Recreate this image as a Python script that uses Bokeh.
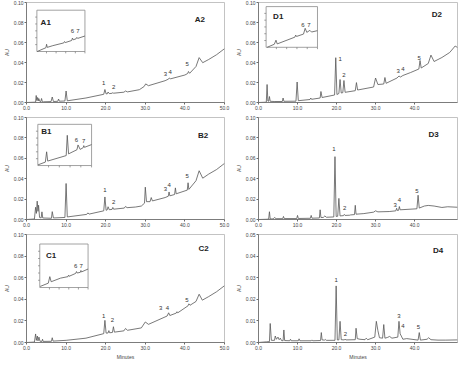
from bokeh.plotting import figure
from bokeh.models import Range1d, FixedTicker, NumeralTickFormatter
from bokeh.layouts import column, row
from bokeh.embed import file_html
from bokeh.resources import INLINE
from bokeh.core.properties import value

FONT = "Liberation Sans"

# ---------------- data (retention time in minutes, absorbance in AU) ----------------
A2_t = [0, 2.0, 2.3, 2.45, 2.6, 2.8, 2.95, 3.1, 3.4, 3.6, 3.8, 4.0, 4.3, 6.2, 6.5, 6.8, 7.9, 8.1, 8.3,
        9.7, 10.0, 10.3, 15.0, 19.5, 19.8, 20.1, 20.4, 20.6, 20.9, 21.6, 21.8, 22.0, 24.6, 25.0, 25.5,
        28.5, 29.7, 30.1, 30.8, 35.0, 35.9, 36.1, 36.4, 40.0, 40.7, 40.9, 41.2, 42.8, 43.6, 44.5, 46.0, 48.0, 50.0]
A2_au = [0.0, 0.0003, 0.0004, 0.007, 0.002, 0.005, 0.0015, 0.004, 0.001, 0.0008, 0.004, 0.0008, 0.0007,
         0.0009, 0.0055, 0.001, 0.0012, 0.0035, 0.0013, 0.0015, 0.0115, 0.0017, 0.0045, 0.0082, 0.013,
         0.0086, 0.0087, 0.0105, 0.0089, 0.0092, 0.0098, 0.0093, 0.0103, 0.0115, 0.0106, 0.0128, 0.016,
         0.0186, 0.0168, 0.0218, 0.0235, 0.0245, 0.0237, 0.0275, 0.029, 0.031, 0.0292, 0.036, 0.0449,
         0.0398, 0.043, 0.0478, 0.0538]

B2_t = [0, 2.0, 2.3, 2.5, 2.7, 2.9, 3.05, 3.3, 3.7, 3.9, 4.1, 6.3, 6.5, 6.8, 9.7, 10.0, 10.3, 15.2, 15.5,
        15.8, 19.5, 19.8, 20.1, 20.4, 20.6, 20.9, 21.6, 21.8, 22.0, 24.7, 25.0, 25.4, 27.5, 29.0, 29.8,
        30.0, 30.3, 31.2, 31.5, 31.8, 35.0, 35.8, 36.0, 36.2, 37.4, 37.6, 37.8, 40.6, 40.8, 41.0, 42.8,
        43.6, 44.5, 46.0, 48.0, 50.0]
B2_au = [0.0, 0.0005, 0.012, 0.006, 0.018, 0.008, 0.014, 0.002, 0.0015, 0.0075, 0.0015, 0.0012, 0.0077,
         0.0015, 0.002, 0.0353, 0.0025, 0.005, 0.0065, 0.0053, 0.0085, 0.0221, 0.009, 0.0095, 0.0125,
         0.0096, 0.0099, 0.0118, 0.0101, 0.0112, 0.0128, 0.0116, 0.0122, 0.0132, 0.016, 0.0317, 0.0175,
         0.0175, 0.0215, 0.0182, 0.0215, 0.0228, 0.027, 0.0232, 0.0245, 0.031, 0.0252, 0.0288, 0.036,
         0.0295, 0.038, 0.0478, 0.0405, 0.0445, 0.049, 0.055]

C2_t = [0, 2.0, 2.3, 2.5, 2.75, 2.9, 3.15, 3.4, 3.9, 4.05, 4.2, 6.3, 6.5, 6.7, 10.0, 15.0, 19.5, 19.8,
        20.1, 20.6, 20.8, 21.0, 21.7, 21.95, 22.2, 24.6, 25.0, 25.5, 29.0, 30.0, 30.8, 35.5, 35.9, 36.2,
        37.8, 38.0, 38.2, 40.8, 41.0, 41.3, 42.8, 43.6, 44.4, 46.0, 48.0, 50.0]
C2_au = [0.0, 0.0004, 0.0079, 0.002, 0.006, 0.0015, 0.005, 0.0012, 0.001, 0.003, 0.001, 0.0011, 0.0044,
         0.0013, 0.002, 0.004, 0.0082, 0.0205, 0.0087, 0.0088, 0.011, 0.009, 0.0093, 0.0146, 0.0096,
         0.0108, 0.013, 0.0113, 0.0135, 0.019, 0.0168, 0.0245, 0.0275, 0.025, 0.0272, 0.0285, 0.0275,
         0.034, 0.0358, 0.0345, 0.038, 0.0447, 0.0392, 0.0425, 0.047, 0.0526]

D2_t = [0, 2.0, 2.2, 2.4, 2.6, 2.8, 3.0, 4.0, 6.1, 6.3, 6.5, 9.6, 9.9, 10.2, 13.2, 13.4, 13.6, 15.8, 16.0,
        16.3, 19.5, 19.8, 20.1, 20.6, 20.9, 21.2, 21.6, 21.9, 22.2, 24.8, 25.1, 25.4, 29.5, 30.0, 30.6,
        32.1, 32.4, 32.7, 35.5, 36.0, 36.4, 37.0, 39.0, 41.1, 41.4, 41.7, 43.5, 44.2, 45.0, 47.0, 49.0,
        50.4, 51.0]
D2_au = [0.0, 0.0003, 0.018, 0.0015, 0.0012, 0.006, 0.0012, 0.001, 0.001, 0.0045, 0.0012, 0.0013, 0.0205,
         0.0018, 0.003, 0.0045, 0.0032, 0.0045, 0.011, 0.005, 0.0075, 0.0448, 0.008, 0.009, 0.023, 0.0095,
         0.0098, 0.022, 0.0102, 0.0118, 0.0199, 0.0125, 0.0155, 0.0245, 0.018, 0.0185, 0.025, 0.0192,
         0.0245, 0.0265, 0.0255, 0.027, 0.03, 0.0335, 0.042, 0.0345, 0.039, 0.0474, 0.041, 0.045, 0.05,
         0.0565, 0.055]

D3_t = [0, 2.0, 2.6, 2.8, 3.0, 3.8, 4.1, 4.5, 6.2, 6.4, 6.6, 9.8, 10.0, 10.2, 13.3, 13.5, 13.7, 15.6, 15.8,
        16.0, 16.6, 17.0, 17.4, 19.3, 19.6, 19.9, 20.3, 20.6, 20.9, 21.8, 22.0, 22.2, 23.4, 23.6, 24.6,
        24.8, 25.0, 27.0, 29.5, 30.0, 30.6, 33.5, 35.2, 35.4, 35.6, 35.9, 36.1, 36.3, 40.6, 40.9, 41.2,
        42.5, 43.5, 45.0, 47.0, 48.5, 51.0]
D3_au = [0.0, 0.0002, 0.0004, 0.0076, 0.0005, 0.0006, 0.002, 0.0008, 0.0008, 0.003, 0.0009, 0.0009, 0.004,
         0.001, 0.0012, 0.004, 0.0013, 0.0015, 0.0095, 0.002, 0.002, 0.0035, 0.0022, 0.0025, 0.0616, 0.003,
         0.0032, 0.0207, 0.0035, 0.0038, 0.005, 0.004, 0.0042, 0.0045, 0.0048, 0.0139, 0.0052, 0.0058,
         0.0072, 0.0085, 0.0075, 0.0078, 0.0085, 0.011, 0.0088, 0.009, 0.0127, 0.0095, 0.0105, 0.0238,
         0.0112, 0.0132, 0.0138, 0.0132, 0.0118, 0.0125, 0.012]

D4_t = [0, 2.0, 2.8, 3.0, 3.3, 4.1, 4.3, 4.6, 5.0, 5.3, 5.6, 5.9, 6.3, 6.5, 6.7, 8.0, 8.2, 8.4, 10.2, 10.4,
        10.6, 13.5, 13.7, 13.9, 15.9, 16.1, 16.3, 16.9, 17.1, 17.4, 19.6, 19.9, 20.2, 20.6, 20.9, 21.2,
        22.0, 22.2, 22.4, 24.8, 25.0, 25.3, 26.0, 27.3, 27.6, 28.0, 29.8, 30.2, 30.6, 31.0, 31.8, 32.1,
        32.4, 33.0, 33.6, 34.2, 35.7, 36.0, 36.3, 36.6, 37.0, 38.0, 40.9, 41.2, 41.5, 43.2, 43.6, 44.2,
        46.0, 48.0, 51.0]
D4_au = [0.0, 0.0003, 0.0004, 0.0088, 0.001, 0.001, 0.003, 0.0015, 0.0025, 0.0013, 0.002, 0.0009, 0.0008,
         0.0058, 0.0009, 0.0008, 0.0015, 0.0008, 0.0008, 0.0017, 0.0008, 0.0008, 0.0012, 0.0008, 0.0009,
         0.0046, 0.0012, 0.0011, 0.0014, 0.001, 0.001, 0.0262, 0.0012, 0.0012, 0.0098, 0.0013, 0.0012,
         0.0016, 0.0012, 0.0013, 0.0066, 0.0018, 0.0015, 0.0013, 0.002, 0.0013, 0.0025, 0.0098, 0.0055,
         0.0022, 0.002, 0.0083, 0.002, 0.0023, 0.0028, 0.002, 0.0025, 0.0098, 0.004, 0.003, 0.0015,
         0.0018, 0.0011, 0.0046, 0.0011, 0.0015, 0.0022, 0.0013, 0.0011, 0.0011, 0.0012]

# insets (their own time / absorbance scale)
A1_t = [0.15, 4.7, 5.05, 5.4, 8.3, 14.0, 14.4, 14.8, 18.1, 18.5, 18.9, 20.4, 20.8, 21.2, 25.0]
A1_au = [0.0, 0.0011, 0.0021, 0.0012, 0.0017, 0.0025, 0.0029, 0.0026, 0.0032, 0.0039, 0.0034, 0.0037,
         0.0041, 0.0038, 0.0045]
B1_t = [0.1, 3.5, 4.1, 4.6, 13.2, 13.7, 14.3, 18.2, 18.7, 19.7, 21.1, 21.4, 21.7, 25.0]
B1_au = [0.0002, 0.001, 0.004, 0.0013, 0.0029, 0.0088, 0.0034, 0.0046, 0.006, 0.0047, 0.0052, 0.0058,
         0.0053, 0.0061]
C1_t = [0.2, 4.4, 5.2, 5.9, 10.8, 14.6, 14.9, 15.2, 18.6, 19.0, 19.4, 21.0, 21.3, 21.6, 25.0]
C1_au = [0.0003, 0.0012, 0.003, 0.0016, 0.0026, 0.003, 0.0034, 0.0031, 0.0039, 0.0044, 0.004, 0.0042,
         0.0047, 0.0043, 0.0051]
D1_t = [0.5, 4.0, 4.8, 5.4, 14.0, 14.4, 14.8, 18.2, 19.0, 19.8, 21.3, 22.1, 24.9]
D1_au = [0.0, 0.0009, 0.0021, 0.001, 0.003, 0.0036, 0.0032, 0.0039, 0.0056, 0.0044, 0.005, 0.0045, 0.0049]

X_TICKS_LEFT = [0, 10, 20, 30, 40, 50]
X_TICKS_RIGHT = [0, 10, 20, 30, 40]
Y_TICKS_10 = [0.0, 0.02, 0.04, 0.06, 0.08, 0.10]
Y_TICKS_05 = [0.0, 0.01, 0.02, 0.03, 0.04, 0.05]
INSET_X_TICKS = [5, 10, 15, 20, 25]
INSET_Y_TICKS = [0.002, 0.004, 0.006, 0.008, 0.010]
PEAK_NAMES = ["1", "2", "3", "4", "5"]

# label placements (time, AU) for the peak numbers and panel names
A2_lab = ([19.5, 22.0, 35.1, 36.3, 40.6], [0.0192, 0.0154, 0.0288, 0.0308, 0.0385], (43.8, 0.0827))
B2_lab = ([19.8, 22.0, 35.1, 36.0, 40.6], [0.0285, 0.0167, 0.0302, 0.0336, 0.0423], (44.6, 0.0824))
C2_lab = ([19.5, 21.7, 33.9, 35.6, 40.5], [0.0243, 0.0205, 0.0322, 0.0316, 0.0395], (44.7, 0.087))
D2_lab = ([20.9, 21.9, 35.8, 37.0, 41.2], [0.0436, 0.0277, 0.0312, 0.0337, 0.0448], (45.7, 0.0884))
D3_lab = ([19.3, 22.1, 35.0, 36.1, 40.6], [0.0689, 0.0111, 0.0143, 0.0187, 0.0282], (44.9, 0.0832))
D4_lab = ([19.9, 22.3, 36.0, 37.0, 41.0], [0.0289, 0.0039, 0.0121, 0.0076, 0.0073], (46.0, 0.0424))

LINE = "#575757"
AXIS = "#6a6a6a"
TXT = "#333333"


def make_panel(t, au, xmax, ymax, xticks, yticks, width, height, mbl, mbr, mbt, mbb, xlabel=None):
    p = figure(width=width, height=height, x_range=Range1d(0, xmax), y_range=Range1d(0, ymax),
               output_backend="svg", toolbar_location=None,
               min_border_left=mbl, min_border_right=mbr, min_border_top=mbt, min_border_bottom=mbb)
    p.xgrid.visible = False
    p.ygrid.visible = False
    p.outline_line_color = "#b4b4b4"
    p.outline_line_width = 0.8
    p.background_fill_color = "white"
    p.border_fill_color = "white"
    p.xaxis.ticker = FixedTicker(ticks=xticks)
    p.yaxis.ticker = FixedTicker(ticks=yticks)
    p.xaxis.formatter = NumeralTickFormatter(format="0.0")
    p.yaxis.formatter = NumeralTickFormatter(format="0.00")
    for ax in (p.xaxis[0], p.yaxis[0]):
        ax.axis_line_color = AXIS
        ax.axis_line_width = 0.8
        ax.major_tick_line_color = AXIS
        ax.major_tick_in = 0
        ax.major_tick_out = 2
        ax.minor_tick_line_color = None
        ax.major_label_text_font = FONT
        ax.major_label_text_font_size = "5px"
        ax.major_label_text_color = "#444444"
        ax.major_label_standoff = 1
        ax.axis_label_text_font = FONT
        ax.axis_label_text_font_size = "5px"
        ax.axis_label_text_font_style = "normal"
        ax.axis_label_text_color = "#444444"
        ax.axis_label_standoff = 1
    p.yaxis.axis_label = "AU"
    if xlabel:
        p.xaxis.axis_label = xlabel
    p.line(t, au, line_color=LINE, line_width=0.8)
    return p


def add_labels(p, lab, name):
    xs, ys, (nx, ny) = lab
    p.text(x=xs, y=ys, text=PEAK_NAMES, text_font=value(FONT), text_font_size="6px",
           text_color=TXT, text_align="center", text_baseline="middle")
    p.text(x=[nx], y=[ny], text=[name], text_font=value(FONT), text_font_size="8px",
           text_font_style="bold", text_color="#222222", text_align="center", text_baseline="middle")


def add_inset(p, box, t, au, name, name_pos, lab6, lab7):
    bx0, bx1, by0, by1 = box
    ix0, ix1, iy0, iy1 = 0.0, 25.0, 0.0, 0.012
    sx = (ix1 - ix0) / (bx1 - bx0)
    sy = (iy1 - iy0) / (by1 - by0)
    p.extra_x_ranges = {"ix": Range1d(ix0 - (bx0 - p.x_range.start) * sx, ix1 + (p.x_range.end - bx1) * sx)}
    p.extra_y_ranges = {"iy": Range1d(iy0 - (by0 - p.y_range.start) * sy, iy1 + (p.y_range.end - by1) * sy)}
    p.quad(left=[bx0], right=[bx1], bottom=[by0], top=[by1], fill_color="white",
           line_color="#8a8a8a", line_width=0.8)
    kw = dict(x_range_name="ix", y_range_name="iy")
    # inset ticks
    tl_y = 0.045 * (iy1 - iy0)
    tl_x = 0.035 * (ix1 - ix0)
    p.segment(x0=INSET_X_TICKS, x1=INSET_X_TICKS, y0=[iy0] * len(INSET_X_TICKS),
              y1=[iy0 - tl_y] * len(INSET_X_TICKS), line_color="#777777", line_width=0.7, **kw)
    p.segment(x0=[ix0] * len(INSET_Y_TICKS), x1=[ix0 - tl_x] * len(INSET_Y_TICKS), y0=INSET_Y_TICKS,
              y1=INSET_Y_TICKS, line_color="#777777", line_width=0.7, **kw)
    p.line(t, au, line_color=LINE, line_width=0.8, **kw)
    p.text(x=[lab6[0], lab7[0]], y=[lab6[1], lab7[1]], text=["6", "7"], text_font=value(FONT),
           text_font_size="6px", text_color=TXT, text_align="center", text_baseline="middle", **kw)
    p.text(x=[name_pos[0]], y=[name_pos[1]], text=[name], text_font=value(FONT), text_font_size="8px",
           text_font_style="bold", text_color="#222222", text_align="center", text_baseline="middle", **kw)


LW, RW = 232, 226

pA = make_panel(A2_t, A2_au, 50, 0.10, X_TICKS_LEFT, Y_TICKS_10, LW, 113, 20, 8, 2, 11)
add_inset(pA, (2.62, 14.76, 0.051, 0.0923), A1_t, A1_au, "A1", (4.6, 0.0084), (18.5, 0.0059), (21.4, 0.006))
add_labels(pA, A2_lab, "A2")

pB = make_panel(B2_t, B2_au, 50, 0.10, X_TICKS_LEFT, Y_TICKS_10, LW, 117, 20, 8, 4, 11)
add_inset(pB, (2.86, 16.43, 0.0529, 0.0933), B1_t, B1_au, "B1", (4.0, 0.0099), (18.0, 0.0073), (21.3, 0.0071))
add_labels(pB, B2_lab, "B2")

pC = make_panel(C2_t, C2_au, 50, 0.10, X_TICKS_LEFT, Y_TICKS_10, LW, 132, 20, 8, 4, 16, xlabel="Minutes")
add_inset(pC, (3.35, 15.55, 0.0509, 0.0912), C1_t, C1_au, "C1", (5.9, 0.0088), (18.6, 0.0059), (21.4, 0.0059))
add_labels(pC, C2_lab, "C2")

pD2 = make_panel(D2_t, D2_au, 51, 0.10, X_TICKS_RIGHT, Y_TICKS_10, RW, 113, 20, 1, 2, 11)
add_inset(pD2, (1.95, 15.12, 0.0552, 0.0959), D1_t, D1_au, "D1", (5.9, 0.0091), (17.9, 0.0067), (20.8, 0.0067))
add_labels(pD2, D2_lab, "D2")

pD3 = make_panel(D3_t, D3_au, 51, 0.10, X_TICKS_RIGHT, Y_TICKS_10, RW, 117, 20, 1, 4, 11)
add_labels(pD3, D3_lab, "D3")

pD4 = make_panel(D4_t, D4_au, 51, 0.05, X_TICKS_RIGHT, Y_TICKS_05, RW, 132, 20, 1, 4, 19, xlabel="Minutes")
add_labels(pD4, D4_lab, "D4")

layout = column(row(pA, pD2), row(pB, pD3), row(pC, pD4))

open("out.html", "w").write(file_html(layout, INLINE))
